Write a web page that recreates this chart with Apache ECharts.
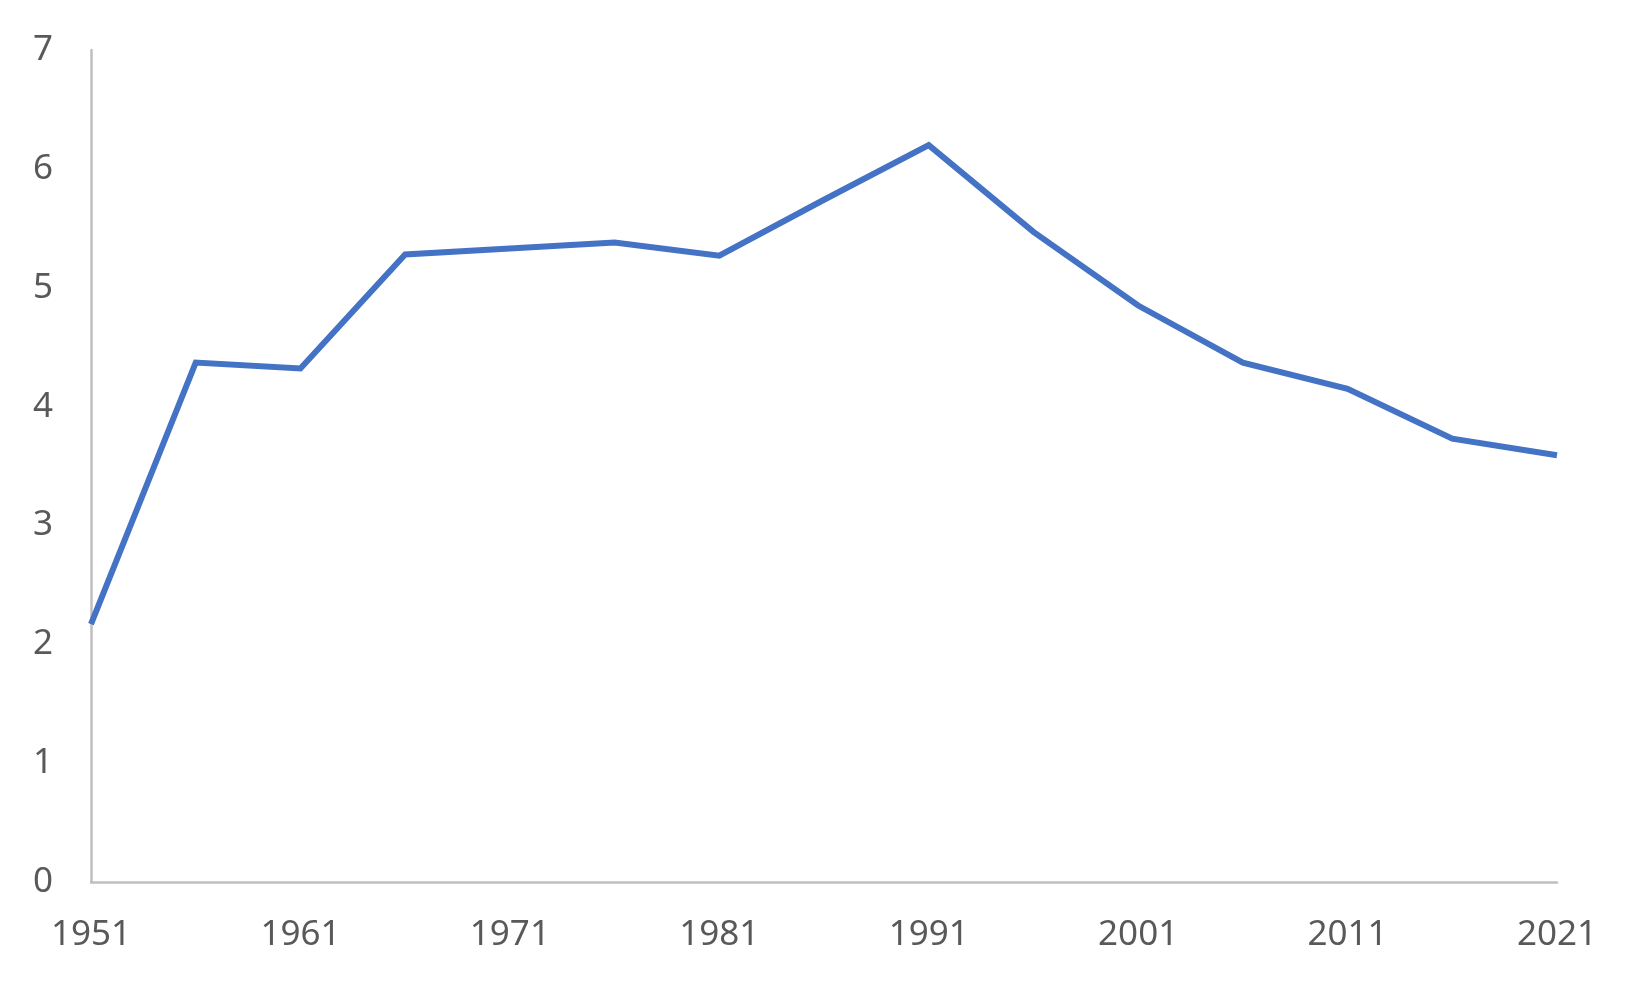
<!DOCTYPE html>
<html>
<head>
<meta charset="utf-8">
<script src="https://cdn.jsdelivr.net/npm/echarts@6/dist/echarts.min.js"></script>
<style>
  html, body { margin: 0; padding: 0; background: #fff; }
  #chart { width: 1649px; height: 990px; }
</style>
</head>
<body>
<div id="chart"></div>
<script>
var years = ['1951', '1956', '1961', '1966', '1971', '1976', '1981', '1986', '1991', '1996', '2001', '2006', '2011', '2016', '2021']
var values = [2.17, 4.37, 4.32, 5.28, 5.33, 5.38, 5.27, 5.74, 6.20, 5.47, 4.85, 4.37, 4.15, 3.73, 3.59]

var chart = echarts.init(document.getElementById('chart'))
var labelStyle = {
  color: '#595959',
  fontFamily: 'Noto Sans',
  fontSize: 35
}
chart.setOption({
  animation: false,
  grid: { left: 91, right: 92, top: 50, bottom: 108 },
  xAxis: {
    type: 'category',
    data: years,
    boundaryGap: false,
    axisLine: { lineStyle: { color: '#BFBFBF', width: 2.5 } },
    axisTick: { show: false },
    axisLabel: Object.assign({ interval: 1, margin: 36 }, labelStyle)
  },
  yAxis: {
    type: 'value',
    min: 0,
    max: 7,
    interval: 1,
    axisLine: { show: true, lineStyle: { color: '#BFBFBF', width: 2.5 } },
    axisTick: { show: false },
    splitLine: { show: false },
    axisLabel: Object.assign({ margin: 38 }, labelStyle)
  },
  series: [{
    type: 'line',
    data: values,
    symbol: 'none',
    lineStyle: { color: '#4472C4', width: 6, join: 'miter' }
  }]
})
</script>
</body>
</html>
